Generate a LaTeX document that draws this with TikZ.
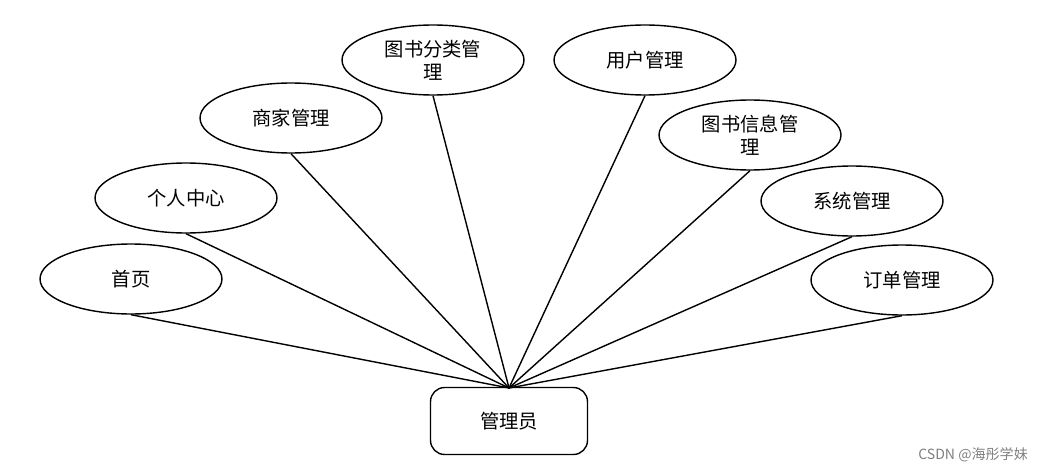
\documentclass[tikz,border=0pt]{standalone}
\usepackage{fontspec}
\newfontfamily\cjk{Noto Sans CJK SC}
\usetikzlibrary{shapes.geometric}
\begin{document}
\begin{tikzpicture}[x=0.02cm,y=-0.02cm,
  ell/.style={draw,thick,ellipse,minimum width=3.64cm,minimum height=1.4cm,inner sep=0pt,font=\cjk\fontsize{11}{13}\selectfont,align=center},
  link/.style={thick}]
\useasboundingbox (0,0) rectangle (1044,473);
\node[ell] (a) at (131,279) {首页};
\node[ell] (b) at (186,198) {个人中心};
\node[ell] (c) at (291,118) {商家管理};
\node[ell] (d) at (433,60) {图书分类管\\理};
\node[ell] (e) at (645,60) {用户管理};
\node[ell] (f) at (750,135) {图书信息管\\理};
\node[ell] (g) at (852,201) {系统管理};
\node[ell] (h) at (902,280) {订单管理};
\node[draw,thick,rounded corners=8pt,minimum width=3.14cm,minimum height=1.34cm,font=\cjk\fontsize{11}{13}\selectfont] (m) at (509,421) {管理员};
\coordinate (apex) at (509,388);
\foreach \n in {a,b,c,d,e,f,g,h} \draw[link] (\n.south) -- (apex);
\node[anchor=south east,text=gray,font=\cjk\fontsize{8}{10}\selectfont] (w) at (1034,468) {CSDN @海彤学妹};
\end{tikzpicture}
\end{document}
